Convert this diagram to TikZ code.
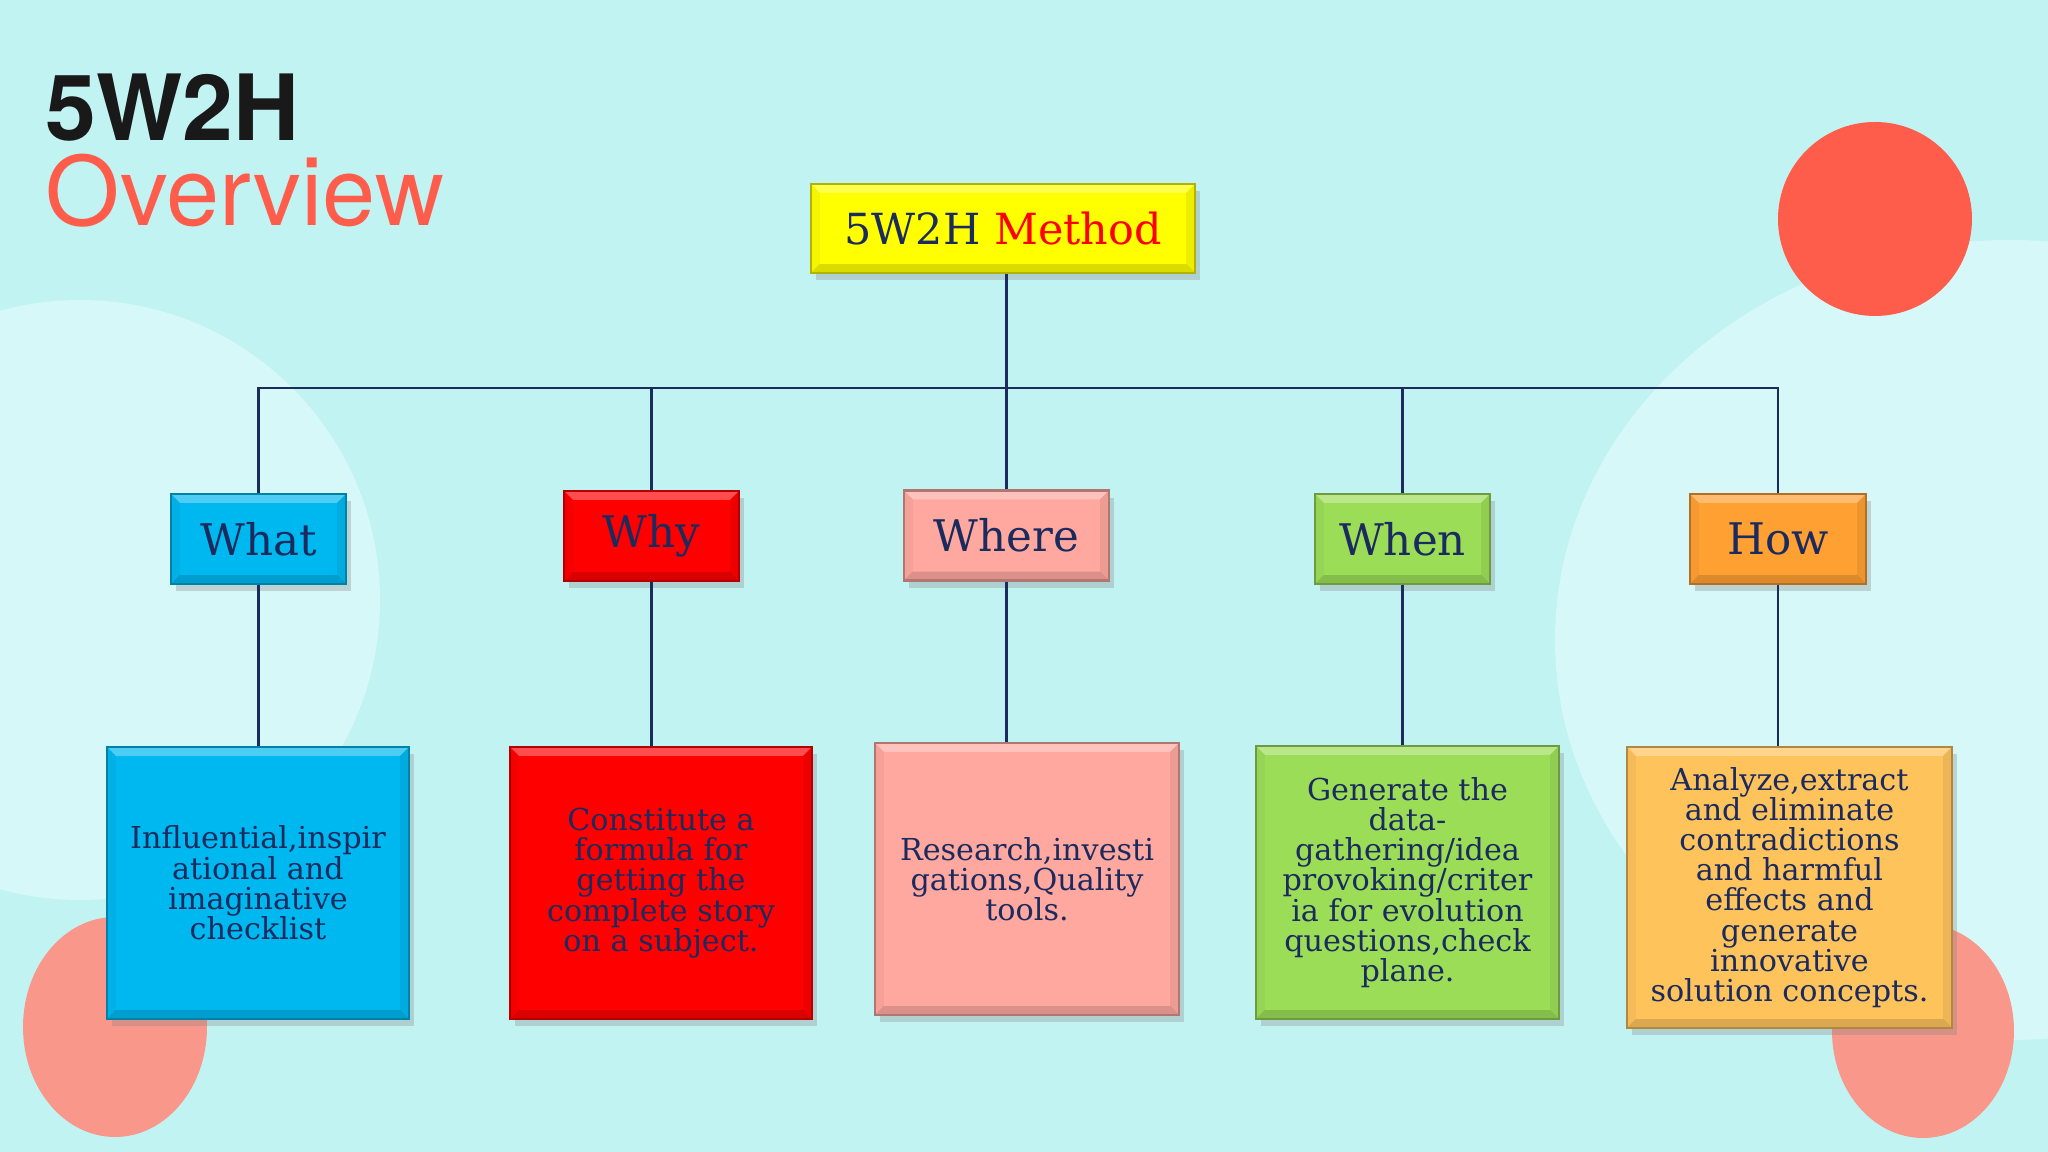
\documentclass[tikz,border=0pt]{standalone}
\usepackage{fontspec}
\setmainfont{DejaVu Serif}
\newfontfamily\headfont{TeX Gyre Heros}
\definecolor{bgcyan}{HTML}{C2F3F3}
\definecolor{bglight}{HTML}{D6F8F8}
\definecolor{coral}{HTML}{FF5D4C}
\definecolor{salmon}{HTML}{FA978B}
\definecolor{wnavy}{HTML}{1B2B5E}
\definecolor{methodyellow}{HTML}{FFFF00}
\definecolor{whatblue}{HTML}{00B8F0}
\definecolor{whyred}{HTML}{FF0000}
\definecolor{wherepink}{HTML}{FFA8A0}
\definecolor{whengreen}{HTML}{9CDD58}
\definecolor{howorange}{HTML}{FFA033}
\definecolor{howlight}{HTML}{FFC35C}
\usetikzlibrary{shadows}

\begin{document}
\begin{tikzpicture}[
  wbox/.style={draw=#1!70!black, fill=#1, line width=0.6pt, inner sep=0pt,
    text=wnavy, align=center,
    drop shadow={opacity=0.3, shadow xshift=1.5pt, shadow yshift=-2pt},
    path picture={
      \fill[white, opacity=0.3] (path picture bounding box.north west)
        -- (path picture bounding box.north east)
        -- ([shift={(-2.5pt,-2.5pt)}]path picture bounding box.north east)
        -- ([shift={(2.5pt,-2.5pt)}]path picture bounding box.north west) -- cycle;
      \fill[black, opacity=0.14] (path picture bounding box.south west)
        -- (path picture bounding box.south east)
        -- ([shift={(-2.5pt,2.5pt)}]path picture bounding box.south east)
        -- ([shift={(2.5pt,2.5pt)}]path picture bounding box.south west) -- cycle;
      \fill[black, opacity=0.07] (path picture bounding box.south east)
        -- (path picture bounding box.north east)
        -- ([shift={(-2.5pt,-2.5pt)}]path picture bounding box.north east)
        -- ([shift={(-2.5pt,2.5pt)}]path picture bounding box.south east) -- cycle;
      \fill[black, opacity=0.04] (path picture bounding box.south west)
        -- (path picture bounding box.north west)
        -- ([shift={(2.5pt,-2.5pt)}]path picture bounding box.north west)
        -- ([shift={(2.5pt,2.5pt)}]path picture bounding box.south west) -- cycle;
    }},
  cat/.style={wbox=#1, minimum width=1.75cm, minimum height=0.9cm,
    font=\fontsize{12.4}{15}\selectfont},
  descbox/.style={wbox=#1, minimum width=3.02cm, minimum height=2.72cm,
    font=\fontsize{8.6}{8.6}\selectfont},
  link/.style={draw=wnavy, line width=0.75pt}
]
% background
\fill[bgcyan] (0,0) rectangle (20.48,11.52);
\useasboundingbox (0,0) rectangle (20.48,11.52);
\begin{scope}
\clip (0,0) rectangle (20.48,11.52);
\fill[bglight] (0.80,5.52) circle (3.0);
\fill[bglight] (20.10,5.12) ellipse (4.55 and 4.0);
\fill[coral] (18.75,9.33) circle (0.97);
\fill[salmon] (1.15,1.25) ellipse (0.92 and 1.10);
\fill[salmon] (19.23,1.21) ellipse (0.91 and 1.07);
\end{scope}

% title
\node[anchor=north west, inner sep=0pt, align=left,
  font=\headfont\fontsize{26}{24.2}\selectfont] (title) at (0.45,10.79)
  {\textcolor{black!90}{\bfseries 5W2H}\\
   \textcolor{coral}{\fontsize{27.2}{24.2}\selectfont Overview}};

% top box
\node[wbox=methodyellow, minimum width=3.84cm, minimum height=0.89cm,
  font=\fontsize{12.2}{15}\selectfont] (method) at (10.03,9.235)
  {5W2H \textcolor{whyred}{Method}};

% the five questions
\node[cat=whatblue] (what) at (2.585,6.13) {What};
\node[cat=whyred] (why) at (6.515,6.16) {Why};
\node[cat=wherepink, minimum width=2.05cm] (where) at (10.065,6.165) {Where};
\node[cat=whengreen] (when) at (14.025,6.13) {When};
\node[cat=howorange, minimum width=1.76cm] (how) at (17.78,6.13) {How};

% descriptions
\node[descbox=whatblue] (d-what) at (2.58,2.69)
  {Influential,inspir\\ational and\\imaginative\\checklist};
\node[descbox=whyred] (d-why) at (6.61,2.69)
  {Constitute a\\formula for\\getting the\\complete story\\on a subject.};
\node[descbox=wherepink, minimum width=3.04cm] (d-where) at (10.27,2.73)
  {Research,investi\\gations,Quality\\tools.};
\node[descbox=whengreen, minimum width=3.03cm, minimum height=2.73cm] (d-when) at (14.075,2.695)
  {Generate the\\data-\\gathering/idea\\provoking/criter\\ia for evolution\\questions,check\\plane.};
\node[descbox=howlight, minimum width=3.25cm, minimum height=2.81cm] (d-how) at (17.895,2.645)
  {Analyze,extract\\and eliminate\\contradictions\\and harmful\\effects and\\generate\\innovative\\solution concepts.};

% connectors
\coordinate (bus) at (10.065,7.64);
\draw[link] (method.south -| where.north) -- (where.north);
\draw[link] (what.north) |- (how.north |- bus) -- (how.north);
\foreach \n in {why,when}
  \draw[link] (\n.north) -- (\n.north |- bus);
\foreach \n in {what,why,where,when,how}
  \draw[link] (\n.south) -- (\n.south |- d-\n.north);
\end{tikzpicture}
\end{document}
